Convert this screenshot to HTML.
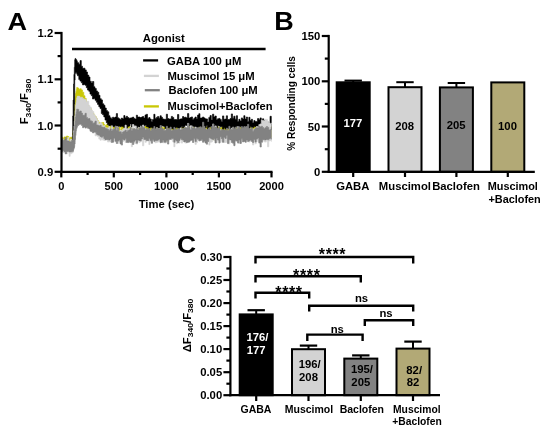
<!DOCTYPE html>
<html lang="en"><head><meta charset="utf-8"><title>Figure</title>
<style>html,body{margin:0;padding:0;background:#fff;}svg{display:block;}text{font-family:"Liberation Sans", Arial, Helvetica, sans-serif;font-weight:bold;}</style>
</head><body>
<svg width="550" height="435" viewBox="0 0 550 435">
<rect x="0" y="0" width="550" height="435" fill="#fff"/>
<path d="M61.5 137.2 L62.8 137.2 L62.8 138.2 L64.0 138.2 L64.0 136.9 L65.2 136.9 L65.2 137.0 L66.5 137.0 L66.5 136.0 L67.8 136.0 L67.8 136.5 L69.0 136.5 L69.0 138.1 L70.2 138.1 L70.2 137.2 L71.5 137.2 L71.5 137.4 L71.9 137.4 L71.9 137.4 L72.3 137.4 L72.3 137.4 L72.7 137.4 L72.7 133.0 L73.1 133.0 L73.1 127.2 L73.5 127.2 L73.5 121.4 L73.9 121.4 L73.9 115.3 L74.3 115.3 L74.3 109.1 L74.7 109.1 L74.7 102.8 L75.1 102.8 L75.1 96.6 L75.5 96.6 L75.5 93.5 L75.9 93.5 L75.9 91.5 L76.3 91.5 L76.3 89.5 L76.7 89.5 L76.7 87.5 L77.1 87.5 L77.1 87.4 L77.5 87.4 L77.5 88.0 L78.8 88.0 L78.8 89.3 L80.0 89.3 L80.0 88.8 L81.3 88.8 L81.3 89.9 L82.5 89.9 L82.5 92.2 L83.8 92.2 L83.8 95.7 L85.0 95.7 L85.0 98.5 L86.3 98.5 L86.3 102.1 L87.5 102.1 L87.5 105.5 L88.8 105.5 L88.8 107.1 L90.0 107.1 L90.0 108.5 L91.3 108.5 L91.3 112.0 L92.5 112.0 L92.5 113.1 L93.8 113.1 L93.8 115.0 L95.0 115.0 L95.0 116.7 L96.3 116.7 L96.3 118.6 L97.5 118.6 L97.5 120.8 L98.8 120.8 L98.8 122.6 L100.0 122.6 L100.0 123.2 L101.3 123.2 L101.3 122.7 L102.5 122.7 L102.5 122.5 L103.8 122.5 L103.8 124.6 L105.0 124.6 L105.0 125.6 L106.3 125.6 L106.3 124.5 L107.5 124.5 L107.5 126.0 L108.8 126.0 L108.8 125.2 L110.0 125.2 L110.0 125.2 L111.3 125.2 L111.3 125.3 L112.5 125.3 L112.5 125.7 L113.8 125.7 L113.8 125.2 L115.0 125.2 L115.0 125.4 L116.3 125.4 L116.3 124.6 L117.5 124.6 L117.5 128.7 L118.8 128.7 L118.8 127.0 L120.0 127.0 L120.0 129.2 L121.3 129.2 L121.3 124.7 L122.5 124.7 L122.5 124.6 L123.8 124.6 L123.8 125.7 L125.0 125.7 L125.0 125.5 L126.3 125.5 L126.3 126.6 L127.5 126.6 L127.5 125.1 L128.8 125.1 L128.8 126.2 L130.0 126.2 L130.0 128.1 L131.3 128.1 L131.3 128.3 L132.5 128.3 L132.5 128.6 L133.8 128.6 L133.8 128.7 L135.0 128.7 L135.0 128.0 L136.3 128.0 L136.3 128.5 L137.5 128.5 L137.5 128.1 L138.8 128.1 L138.8 128.7 L140.0 128.7 L140.0 128.2 L141.3 128.2 L141.3 127.6 L142.5 127.6 L142.5 127.8 L143.8 127.8 L143.8 127.8 L145.0 127.8 L145.0 126.1 L146.3 126.1 L146.3 126.8 L147.5 126.8 L147.5 126.2 L148.8 126.2 L148.8 124.5 L150.0 124.5 L150.0 127.5 L151.3 127.5 L151.3 126.1 L152.5 126.1 L152.5 126.7 L153.8 126.7 L153.8 127.6 L155.0 127.6 L155.0 125.6 L156.3 125.6 L156.3 127.1 L157.5 127.1 L157.5 127.2 L158.8 127.2 L158.8 127.2 L160.0 127.2 L160.0 129.1 L161.3 129.1 L161.3 126.9 L162.5 126.9 L162.5 127.9 L163.8 127.9 L163.8 127.0 L165.0 127.0 L165.0 127.6 L166.3 127.6 L166.3 126.7 L167.5 126.7 L167.5 127.1 L168.8 127.1 L168.8 126.9 L170.0 126.9 L170.0 126.5 L171.3 126.5 L171.3 126.4 L172.5 126.4 L172.5 126.1 L173.8 126.1 L173.8 125.4 L175.0 125.4 L175.0 127.6 L176.3 127.6 L176.3 126.4 L177.5 126.4 L177.5 125.9 L178.8 125.9 L178.8 127.9 L180.0 127.9 L180.0 127.5 L181.3 127.5 L181.3 128.2 L182.5 128.2 L182.5 127.0 L183.8 127.0 L183.8 127.3 L185.0 127.3 L185.0 127.9 L186.3 127.9 L186.3 128.4 L187.5 128.4 L187.5 129.5 L188.8 129.5 L188.8 126.8 L190.0 126.8 L190.0 128.8 L191.3 128.8 L191.3 129.4 L192.5 129.4 L192.5 128.2 L193.8 128.2 L193.8 126.9 L195.0 126.9 L195.0 127.7 L196.3 127.7 L196.3 127.6 L197.5 127.6 L197.5 128.5 L198.8 128.5 L198.8 126.8 L200.0 126.8 L200.0 126.8 L201.3 126.8 L201.3 127.3 L202.5 127.3 L202.5 127.8 L203.8 127.8 L203.8 126.5 L205.0 126.5 L205.0 127.2 L206.3 127.2 L206.3 127.0 L207.5 127.0 L207.5 126.4 L208.8 126.4 L208.8 127.3 L210.0 127.3 L210.0 127.5 L211.3 127.5 L211.3 127.2 L212.5 127.2 L212.5 127.0 L213.8 127.0 L213.8 127.2 L215.0 127.2 L215.0 128.8 L216.3 128.8 L216.3 126.0 L217.5 126.0 L217.5 126.9 L218.8 126.9 L218.8 127.4 L220.0 127.4 L220.0 127.8 L221.3 127.8 L221.3 127.3 L222.5 127.3 L222.5 125.2 L223.8 125.2 L223.8 126.5 L225.0 126.5 L225.0 125.8 L226.3 125.8 L226.3 125.0 L227.5 125.0 L227.5 126.5 L228.8 126.5 L228.8 125.7 L230.0 125.7 L230.0 126.8 L231.3 126.8 L231.3 127.1 L232.5 127.1 L232.5 126.9 L233.8 126.9 L233.8 128.8 L235.0 128.8 L235.0 127.5 L236.3 127.5 L236.3 128.2 L237.5 128.2 L237.5 127.7 L238.8 127.7 L238.8 128.5 L240.0 128.5 L240.0 127.5 L241.3 127.5 L241.3 128.5 L242.5 128.5 L242.5 127.4 L243.8 127.4 L243.8 127.7 L245.0 127.7 L245.0 127.0 L246.3 127.0 L246.3 127.5 L247.5 127.5 L247.5 127.9 L248.8 127.9 L248.8 128.7 L250.0 128.7 L250.0 127.5 L251.3 127.5 L251.3 128.3 L252.5 128.3 L252.5 125.9 L253.8 125.9 L253.8 126.7 L255.0 126.7 L255.0 125.8 L256.3 125.8 L256.3 126.4 L257.5 126.4 L257.5 128.1 L258.8 128.1 L258.8 128.9 L260.0 128.9 L260.0 127.4 L261.3 127.4 L261.3 129.0 L262.5 129.0 L262.5 128.5 L263.8 128.5 L263.8 129.1 L265.0 129.1 L265.0 129.5 L266.3 129.5 L266.3 127.4 L267.5 127.4 L267.5 128.9 L268.8 128.9 L268.8 129.0 L270.0 129.0 L270.0 126.4 L271.3 126.4 L271.3 127.3 L271.3 127.3 L271.3 126.1 L271.3 126.1 L271.3 136.9 L271.3 136.9 L271.3 137.5 L271.3 137.5 L271.3 136.2 L270.0 136.2 L270.0 138.0 L268.8 138.0 L268.8 138.2 L267.5 138.2 L267.5 135.0 L266.3 135.0 L266.3 136.8 L265.0 136.8 L265.0 137.3 L263.8 137.3 L263.8 139.3 L262.5 139.3 L262.5 137.2 L261.3 137.2 L261.3 137.5 L260.0 137.5 L260.0 139.0 L258.8 139.0 L258.8 136.1 L257.5 136.1 L257.5 137.0 L256.3 137.0 L256.3 134.8 L255.0 134.8 L255.0 137.5 L253.8 137.5 L253.8 139.7 L252.5 139.7 L252.5 137.4 L251.3 137.4 L251.3 137.1 L250.0 137.1 L250.0 134.9 L248.8 134.9 L248.8 138.7 L247.5 138.7 L247.5 137.6 L246.3 137.6 L246.3 138.3 L245.0 138.3 L245.0 137.5 L243.8 137.5 L243.8 134.9 L242.5 134.9 L242.5 138.9 L241.3 138.9 L241.3 138.8 L240.0 138.8 L240.0 136.1 L238.8 136.1 L238.8 138.4 L237.5 138.4 L237.5 138.3 L236.3 138.3 L236.3 137.1 L235.0 137.1 L235.0 136.8 L233.8 136.8 L233.8 137.0 L232.5 137.0 L232.5 136.3 L231.3 136.3 L231.3 136.6 L230.0 136.6 L230.0 135.7 L228.8 135.7 L228.8 136.3 L227.5 136.3 L227.5 133.9 L226.3 133.9 L226.3 135.9 L225.0 135.9 L225.0 136.4 L223.8 136.4 L223.8 136.2 L222.5 136.2 L222.5 137.5 L221.3 137.5 L221.3 137.7 L220.0 137.7 L220.0 134.2 L218.8 134.2 L218.8 138.9 L217.5 138.9 L217.5 136.1 L216.3 136.1 L216.3 136.2 L215.0 136.2 L215.0 140.1 L213.8 140.1 L213.8 136.4 L212.5 136.4 L212.5 137.4 L211.3 137.4 L211.3 136.4 L210.0 136.4 L210.0 136.9 L208.8 136.9 L208.8 138.4 L207.5 138.4 L207.5 136.0 L206.3 136.0 L206.3 135.3 L205.0 135.3 L205.0 133.9 L203.8 133.9 L203.8 136.9 L202.5 136.9 L202.5 134.8 L201.3 134.8 L201.3 136.1 L200.0 136.1 L200.0 133.7 L198.8 133.7 L198.8 135.2 L197.5 135.2 L197.5 134.8 L196.3 134.8 L196.3 137.4 L195.0 137.4 L195.0 135.4 L193.8 135.4 L193.8 138.7 L192.5 138.7 L192.5 138.0 L191.3 138.0 L191.3 138.4 L190.0 138.4 L190.0 138.0 L188.8 138.0 L188.8 139.1 L187.5 139.1 L187.5 139.2 L186.3 139.2 L186.3 139.3 L185.0 139.3 L185.0 137.0 L183.8 137.0 L183.8 134.8 L182.5 134.8 L182.5 139.6 L181.3 139.6 L181.3 136.9 L180.0 136.9 L180.0 137.3 L178.8 137.3 L178.8 138.2 L177.5 138.2 L177.5 138.9 L176.3 138.9 L176.3 137.0 L175.0 137.0 L175.0 137.0 L173.8 137.0 L173.8 135.1 L172.5 135.1 L172.5 136.7 L171.3 136.7 L171.3 134.9 L170.0 134.9 L170.0 135.5 L168.8 135.5 L168.8 134.2 L167.5 134.2 L167.5 141.0 L166.3 141.0 L166.3 139.6 L165.0 139.6 L165.0 136.2 L163.8 136.2 L163.8 134.6 L162.5 134.6 L162.5 137.1 L161.3 137.1 L161.3 137.4 L160.0 137.4 L160.0 135.8 L158.8 135.8 L158.8 135.2 L157.5 135.2 L157.5 136.9 L156.3 136.9 L156.3 133.9 L155.0 133.9 L155.0 133.4 L153.8 133.4 L153.8 135.1 L152.5 135.1 L152.5 134.0 L151.3 134.0 L151.3 134.3 L150.0 134.3 L150.0 135.5 L148.8 135.5 L148.8 135.1 L147.5 135.1 L147.5 137.0 L146.3 137.0 L146.3 138.3 L145.0 138.3 L145.0 135.3 L143.8 135.3 L143.8 135.9 L142.5 135.9 L142.5 136.7 L141.3 136.7 L141.3 137.3 L140.0 137.3 L140.0 136.6 L138.8 136.6 L138.8 137.7 L137.5 137.7 L137.5 135.8 L136.3 135.8 L136.3 136.7 L135.0 136.7 L135.0 138.9 L133.8 138.9 L133.8 136.7 L132.5 136.7 L132.5 138.5 L131.3 138.5 L131.3 136.6 L130.0 136.6 L130.0 136.0 L128.8 136.0 L128.8 139.0 L127.5 139.0 L127.5 136.5 L126.3 136.5 L126.3 134.3 L125.0 134.3 L125.0 134.6 L123.8 134.6 L123.8 136.6 L122.5 136.6 L122.5 136.2 L121.3 136.2 L121.3 136.3 L120.0 136.3 L120.0 135.9 L118.8 135.9 L118.8 136.1 L117.5 136.1 L117.5 134.7 L116.3 134.7 L116.3 135.7 L115.0 135.7 L115.0 135.3 L113.8 135.3 L113.8 134.9 L112.5 134.9 L112.5 137.8 L111.3 137.8 L111.3 131.4 L110.0 131.4 L110.0 132.9 L108.8 132.9 L108.8 132.5 L107.5 132.5 L107.5 132.2 L106.3 132.2 L106.3 132.2 L105.0 132.2 L105.0 130.8 L103.8 130.8 L103.8 130.8 L102.5 130.8 L102.5 130.9 L101.3 130.9 L101.3 129.2 L100.0 129.2 L100.0 127.1 L98.8 127.1 L98.8 128.6 L97.5 128.6 L97.5 125.6 L96.3 125.6 L96.3 123.7 L95.0 123.7 L95.0 123.3 L93.8 123.3 L93.8 122.0 L92.5 122.0 L92.5 119.6 L91.3 119.6 L91.3 119.2 L90.0 119.2 L90.0 115.8 L88.8 115.8 L88.8 114.4 L87.5 114.4 L87.5 112.1 L86.3 112.1 L86.3 110.0 L85.0 110.0 L85.0 109.0 L83.8 109.0 L83.8 107.9 L82.5 107.9 L82.5 106.0 L81.3 106.0 L81.3 104.3 L80.0 104.3 L80.0 104.6 L78.8 104.6 L78.8 104.8 L77.5 104.8 L77.5 105.0 L77.1 105.0 L77.1 108.0 L76.7 108.0 L76.7 112.0 L76.3 112.0 L76.3 116.0 L75.9 116.0 L75.9 120.0 L75.5 120.0 L75.5 124.0 L75.1 124.0 L75.1 128.0 L74.7 128.0 L74.7 132.0 L74.3 132.0 L74.3 136.0 L73.9 136.0 L73.9 140.0 L73.5 140.0 L73.5 144.0 L73.1 144.0 L73.1 148.0 L72.7 148.0 L72.7 149.0 L72.3 149.0 L72.3 149.0 L71.9 149.0 L71.9 149.0 L71.5 149.0 L71.5 148.6 L70.2 148.6 L70.2 148.8 L69.0 148.8 L69.0 148.4 L67.8 148.4 L67.8 147.9 L66.5 147.9 L66.5 148.6 L65.2 148.6 L65.2 149.1 L64.0 149.1 L64.0 148.8 L62.8 148.8 L62.8 148.3 L61.5 148.3Z" fill="#c9c705" stroke="#c9c705" stroke-width="0.6" stroke-linejoin="round"/>
<path d="M61.5 142.4 L62.8 142.4 L62.8 139.4 L64.0 139.4 L64.0 144.4 L65.2 144.4 L65.2 139.5 L66.5 139.5 L66.5 142.0 L67.8 142.0 L67.8 142.6 L69.0 142.6 L69.0 141.5 L70.2 141.5 L70.2 143.7 L71.5 143.7 L71.5 142.0 L71.9 142.0 L71.9 142.0 L72.3 142.0 L72.3 136.5 L72.7 136.5 L72.7 116.0 L73.1 116.0 L73.1 100.0 L73.5 100.0 L73.5 84.0 L73.9 84.0 L73.9 74.5 L74.3 74.5 L74.3 67.2 L74.7 67.2 L74.7 59.8 L75.1 59.8 L75.1 58.4 L75.5 58.4 L75.5 58.8 L75.9 58.8 L75.9 59.3 L76.3 59.3 L76.3 59.8 L76.7 59.8 L76.7 60.5 L77.1 60.5 L77.1 61.6 L77.5 61.6 L77.5 62.7 L78.8 62.7 L78.8 64.3 L80.0 64.3 L80.0 60.6 L81.3 60.6 L81.3 66.2 L82.5 66.2 L82.5 68.3 L83.8 68.3 L83.8 68.2 L85.0 68.2 L85.0 69.9 L86.3 69.9 L86.3 72.0 L87.5 72.0 L87.5 75.1 L88.8 75.1 L88.8 77.0 L90.0 77.0 L90.0 81.3 L91.3 81.3 L91.3 82.9 L92.5 82.9 L92.5 81.5 L93.8 81.5 L93.8 86.8 L95.0 86.8 L95.0 88.5 L96.3 88.5 L96.3 90.9 L97.5 90.9 L97.5 92.2 L98.8 92.2 L98.8 95.3 L100.0 95.3 L100.0 98.7 L101.3 98.7 L101.3 99.9 L102.5 99.9 L102.5 103.8 L103.8 103.8 L103.8 105.3 L105.0 105.3 L105.0 108.0 L106.3 108.0 L106.3 110.6 L107.5 110.6 L107.5 111.8 L108.8 111.8 L108.8 115.7 L110.0 115.7 L110.0 117.7 L111.3 117.7 L111.3 118.8 L112.5 118.8 L112.5 117.2 L113.8 117.2 L113.8 117.7 L115.0 117.7 L115.0 117.1 L116.3 117.1 L116.3 113.6 L117.5 113.6 L117.5 117.8 L118.8 117.8 L118.8 118.8 L120.0 118.8 L120.0 119.4 L121.3 119.4 L121.3 118.1 L122.5 118.1 L122.5 118.7 L123.8 118.7 L123.8 115.6 L125.0 115.6 L125.0 117.8 L126.3 117.8 L126.3 116.3 L127.5 116.3 L127.5 117.5 L128.8 117.5 L128.8 118.3 L130.0 118.3 L130.0 118.0 L131.3 118.0 L131.3 117.8 L132.5 117.8 L132.5 117.1 L133.8 117.1 L133.8 118.6 L135.0 118.6 L135.0 119.0 L136.3 119.0 L136.3 115.2 L137.5 115.2 L137.5 117.0 L138.8 117.0 L138.8 117.0 L140.0 117.0 L140.0 117.5 L141.3 117.5 L141.3 117.1 L142.5 117.1 L142.5 116.5 L143.8 116.5 L143.8 118.1 L145.0 118.1 L145.0 114.9 L146.3 114.9 L146.3 114.3 L147.5 114.3 L147.5 118.6 L148.8 118.6 L148.8 117.5 L150.0 117.5 L150.0 119.0 L151.3 119.0 L151.3 121.4 L152.5 121.4 L152.5 119.5 L153.8 119.5 L153.8 114.3 L155.0 114.3 L155.0 118.4 L156.3 118.4 L156.3 117.4 L157.5 117.4 L157.5 116.6 L158.8 116.6 L158.8 118.2 L160.0 118.2 L160.0 115.8 L161.3 115.8 L161.3 117.3 L162.5 117.3 L162.5 118.9 L163.8 118.9 L163.8 119.3 L165.0 119.3 L165.0 119.3 L166.3 119.3 L166.3 114.2 L167.5 114.2 L167.5 118.5 L168.8 118.5 L168.8 119.1 L170.0 119.1 L170.0 118.9 L171.3 118.9 L171.3 116.4 L172.5 116.4 L172.5 117.4 L173.8 117.4 L173.8 119.6 L175.0 119.6 L175.0 119.5 L176.3 119.5 L176.3 119.4 L177.5 119.4 L177.5 114.5 L178.8 114.5 L178.8 119.6 L180.0 119.6 L180.0 119.0 L181.3 119.0 L181.3 118.8 L182.5 118.8 L182.5 116.5 L183.8 116.5 L183.8 117.5 L185.0 117.5 L185.0 117.2 L186.3 117.2 L186.3 118.0 L187.5 118.0 L187.5 113.6 L188.8 113.6 L188.8 118.1 L190.0 118.1 L190.0 117.6 L191.3 117.6 L191.3 116.9 L192.5 116.9 L192.5 119.5 L193.8 119.5 L193.8 118.3 L195.0 118.3 L195.0 117.0 L196.3 117.0 L196.3 118.7 L197.5 118.7 L197.5 115.1 L198.8 115.1 L198.8 113.7 L200.0 113.7 L200.0 118.1 L201.3 118.1 L201.3 117.9 L202.5 117.9 L202.5 117.0 L203.8 117.0 L203.8 117.9 L205.0 117.9 L205.0 118.8 L206.3 118.8 L206.3 118.9 L207.5 118.9 L207.5 121.9 L208.8 121.9 L208.8 117.4 L210.0 117.4 L210.0 115.6 L211.3 115.6 L211.3 119.9 L212.5 119.9 L212.5 114.2 L213.8 114.2 L213.8 116.9 L215.0 116.9 L215.0 116.0 L216.3 116.0 L216.3 119.7 L217.5 119.7 L217.5 118.8 L218.8 118.8 L218.8 118.4 L220.0 118.4 L220.0 119.4 L221.3 119.4 L221.3 121.4 L222.5 121.4 L222.5 115.9 L223.8 115.9 L223.8 119.3 L225.0 119.3 L225.0 119.1 L226.3 119.1 L226.3 115.8 L227.5 115.8 L227.5 119.5 L228.8 119.5 L228.8 119.6 L230.0 119.6 L230.0 118.5 L231.3 118.5 L231.3 113.9 L232.5 113.9 L232.5 118.2 L233.8 118.2 L233.8 116.2 L235.0 116.2 L235.0 119.2 L236.3 119.2 L236.3 115.7 L237.5 115.7 L237.5 121.5 L238.8 121.5 L238.8 119.3 L240.0 119.3 L240.0 120.9 L241.3 120.9 L241.3 117.9 L242.5 117.9 L242.5 119.1 L243.8 119.1 L243.8 115.7 L245.0 115.7 L245.0 119.1 L246.3 119.1 L246.3 117.0 L247.5 117.0 L247.5 121.4 L248.8 121.4 L248.8 117.3 L250.0 117.3 L250.0 120.5 L251.3 120.5 L251.3 119.3 L252.5 119.3 L252.5 122.7 L253.8 122.7 L253.8 120.6 L255.0 120.6 L255.0 121.4 L256.3 121.4 L256.3 121.6 L257.5 121.6 L257.5 118.6 L258.8 118.6 L258.8 119.8 L260.0 119.8 L260.0 117.9 L261.3 117.9 L261.3 121.1 L262.5 121.1 L262.5 118.8 L263.8 118.8 L263.8 120.6 L265.0 120.6 L265.0 121.1 L266.3 121.1 L266.3 122.4 L267.5 122.4 L267.5 122.1 L268.8 122.1 L268.8 122.6 L270.0 122.6 L270.0 116.3 L271.3 116.3 L271.3 121.1 L271.3 121.1 L271.3 123.7 L271.3 123.7 L271.3 130.0 L271.3 130.0 L271.3 128.4 L271.3 128.4 L271.3 127.6 L270.0 127.6 L270.0 126.8 L268.8 126.8 L268.8 125.9 L267.5 125.9 L267.5 127.8 L266.3 127.8 L266.3 126.3 L265.0 126.3 L265.0 126.9 L263.8 126.9 L263.8 125.3 L262.5 125.3 L262.5 129.2 L261.3 129.2 L261.3 126.8 L260.0 126.8 L260.0 127.1 L258.8 127.1 L258.8 127.1 L257.5 127.1 L257.5 126.1 L256.3 126.1 L256.3 126.7 L255.0 126.7 L255.0 126.6 L253.8 126.6 L253.8 127.6 L252.5 127.6 L252.5 127.4 L251.3 127.4 L251.3 126.8 L250.0 126.8 L250.0 128.9 L248.8 128.9 L248.8 127.9 L247.5 127.9 L247.5 126.0 L246.3 126.0 L246.3 127.3 L245.0 127.3 L245.0 126.3 L243.8 126.3 L243.8 128.5 L242.5 128.5 L242.5 128.1 L241.3 128.1 L241.3 126.7 L240.0 126.7 L240.0 126.6 L238.8 126.6 L238.8 126.1 L237.5 126.1 L237.5 126.2 L236.3 126.2 L236.3 127.5 L235.0 127.5 L235.0 128.4 L233.8 128.4 L233.8 127.1 L232.5 127.1 L232.5 128.8 L231.3 128.8 L231.3 129.4 L230.0 129.4 L230.0 128.0 L228.8 128.0 L228.8 128.5 L227.5 128.5 L227.5 128.9 L226.3 128.9 L226.3 129.1 L225.0 129.1 L225.0 127.7 L223.8 127.7 L223.8 129.3 L222.5 129.3 L222.5 126.8 L221.3 126.8 L221.3 126.8 L220.0 126.8 L220.0 126.0 L218.8 126.0 L218.8 125.7 L217.5 125.7 L217.5 130.9 L216.3 130.9 L216.3 127.7 L215.0 127.7 L215.0 126.2 L213.8 126.2 L213.8 129.5 L212.5 129.5 L212.5 130.0 L211.3 130.0 L211.3 126.7 L210.0 126.7 L210.0 127.4 L208.8 127.4 L208.8 132.1 L207.5 132.1 L207.5 125.8 L206.3 125.8 L206.3 127.7 L205.0 127.7 L205.0 125.9 L203.8 125.9 L203.8 126.9 L202.5 126.9 L202.5 127.2 L201.3 127.2 L201.3 130.7 L200.0 130.7 L200.0 126.5 L198.8 126.5 L198.8 127.6 L197.5 127.6 L197.5 127.9 L196.3 127.9 L196.3 128.1 L195.0 128.1 L195.0 126.7 L193.8 126.7 L193.8 126.3 L192.5 126.3 L192.5 125.0 L191.3 125.0 L191.3 128.0 L190.0 128.0 L190.0 125.9 L188.8 125.9 L188.8 126.9 L187.5 126.9 L187.5 125.5 L186.3 125.5 L186.3 125.3 L185.0 125.3 L185.0 126.6 L183.8 126.6 L183.8 128.2 L182.5 128.2 L182.5 126.4 L181.3 126.4 L181.3 132.7 L180.0 132.7 L180.0 128.7 L178.8 128.7 L178.8 128.3 L177.5 128.3 L177.5 127.0 L176.3 127.0 L176.3 128.1 L175.0 128.1 L175.0 129.8 L173.8 129.8 L173.8 128.9 L172.5 128.9 L172.5 128.6 L171.3 128.6 L171.3 128.4 L170.0 128.4 L170.0 128.5 L168.8 128.5 L168.8 127.7 L167.5 127.7 L167.5 127.1 L166.3 127.1 L166.3 131.7 L165.0 131.7 L165.0 126.5 L163.8 126.5 L163.8 126.1 L162.5 126.1 L162.5 125.7 L161.3 125.7 L161.3 127.2 L160.0 127.2 L160.0 128.0 L158.8 128.0 L158.8 128.2 L157.5 128.2 L157.5 126.9 L156.3 126.9 L156.3 129.1 L155.0 129.1 L155.0 128.2 L153.8 128.2 L153.8 128.8 L152.5 128.8 L152.5 127.4 L151.3 127.4 L151.3 127.4 L150.0 127.4 L150.0 128.3 L148.8 128.3 L148.8 127.0 L147.5 127.0 L147.5 126.8 L146.3 126.8 L146.3 125.3 L145.0 125.3 L145.0 125.9 L143.8 125.9 L143.8 128.3 L142.5 128.3 L142.5 126.7 L141.3 126.7 L141.3 125.6 L140.0 125.6 L140.0 126.9 L138.8 126.9 L138.8 126.8 L137.5 126.8 L137.5 129.3 L136.3 129.3 L136.3 126.7 L135.0 126.7 L135.0 125.2 L133.8 125.2 L133.8 124.8 L132.5 124.8 L132.5 127.0 L131.3 127.0 L131.3 123.9 L130.0 123.9 L130.0 126.0 L128.8 126.0 L128.8 126.4 L127.5 126.4 L127.5 132.9 L126.3 132.9 L126.3 126.4 L125.0 126.4 L125.0 127.7 L123.8 127.7 L123.8 126.7 L122.5 126.7 L122.5 126.0 L121.3 126.0 L121.3 126.8 L120.0 126.8 L120.0 126.3 L118.8 126.3 L118.8 126.4 L117.5 126.4 L117.5 129.7 L116.3 129.7 L116.3 126.1 L115.0 126.1 L115.0 126.8 L113.8 126.8 L113.8 126.4 L112.5 126.4 L112.5 126.8 L111.3 126.8 L111.3 125.4 L110.0 125.4 L110.0 125.7 L108.8 125.7 L108.8 124.7 L107.5 124.7 L107.5 122.8 L106.3 122.8 L106.3 120.1 L105.0 120.1 L105.0 116.9 L103.8 116.9 L103.8 114.7 L102.5 114.7 L102.5 113.6 L101.3 113.6 L101.3 108.5 L100.0 108.5 L100.0 106.7 L98.8 106.7 L98.8 104.4 L97.5 104.4 L97.5 102.3 L96.3 102.3 L96.3 100.3 L95.0 100.3 L95.0 98.4 L93.8 98.4 L93.8 99.0 L92.5 99.0 L92.5 95.7 L91.3 95.7 L91.3 94.1 L90.0 94.1 L90.0 91.3 L88.8 91.3 L88.8 90.1 L87.5 90.1 L87.5 87.7 L86.3 87.7 L86.3 85.3 L85.0 85.3 L85.0 84.4 L83.8 84.4 L83.8 84.9 L82.5 84.9 L82.5 82.8 L81.3 82.8 L81.3 81.1 L80.0 81.1 L80.0 79.6 L78.8 79.6 L78.8 75.8 L77.5 75.8 L77.5 74.8 L77.1 74.8 L77.1 73.8 L76.7 73.8 L76.7 72.8 L76.3 72.8 L76.3 72.2 L75.9 72.2 L75.9 72.8 L75.5 72.8 L75.5 73.5 L75.1 73.5 L75.1 80.0 L74.7 80.0 L74.7 104.0 L74.3 104.0 L74.3 129.0 L73.9 129.0 L73.9 148.1 L73.5 148.1 L73.5 148.6 L73.1 148.6 L73.1 149.1 L72.7 149.1 L72.7 149.6 L72.3 149.6 L72.3 150.0 L71.9 150.0 L71.9 150.0 L71.5 150.0 L71.5 150.0 L70.2 150.0 L70.2 149.3 L69.0 149.3 L69.0 149.3 L67.8 149.3 L67.8 150.2 L66.5 150.2 L66.5 150.5 L65.2 150.5 L65.2 150.5 L64.0 150.5 L64.0 150.3 L62.8 150.3 L62.8 150.8 L61.5 150.8Z" fill="#000" stroke="#000" stroke-width="0.6" stroke-linejoin="round"/>
<path d="M61.5 141.4 L62.8 141.4 L62.8 138.9 L64.0 138.9 L64.0 142.1 L65.2 142.1 L65.2 140.7 L66.5 140.7 L66.5 139.6 L67.8 139.6 L67.8 137.3 L69.0 137.3 L69.0 141.4 L70.2 141.4 L70.2 139.1 L71.5 139.1 L71.5 141.0 L71.9 141.0 L71.9 141.0 L72.3 141.0 L72.3 141.0 L72.7 141.0 L72.7 139.9 L73.1 139.9 L73.1 135.3 L73.5 135.3 L73.5 130.7 L73.9 130.7 L73.9 126.1 L74.3 126.1 L74.3 121.1 L74.7 121.1 L74.7 115.8 L75.1 115.8 L75.1 110.6 L75.5 110.6 L75.5 105.3 L75.9 105.3 L75.9 102.4 L76.3 102.4 L76.3 100.2 L76.7 100.2 L76.7 98.0 L77.1 98.0 L77.1 96.3 L77.5 96.3 L77.5 96.1 L78.8 96.1 L78.8 96.3 L80.0 96.3 L80.0 97.6 L81.3 97.6 L81.3 97.2 L82.5 97.2 L82.5 98.4 L83.8 98.4 L83.8 99.2 L85.0 99.2 L85.0 99.6 L86.3 99.6 L86.3 101.4 L87.5 101.4 L87.5 101.3 L88.8 101.3 L88.8 105.4 L90.0 105.4 L90.0 107.1 L91.3 107.1 L91.3 110.0 L92.5 110.0 L92.5 111.5 L93.8 111.5 L93.8 114.5 L95.0 114.5 L95.0 116.5 L96.3 116.5 L96.3 118.3 L97.5 118.3 L97.5 121.0 L98.8 121.0 L98.8 123.7 L100.0 123.7 L100.0 122.5 L101.3 122.5 L101.3 123.6 L102.5 123.6 L102.5 125.8 L103.8 125.8 L103.8 125.4 L105.0 125.4 L105.0 127.4 L106.3 127.4 L106.3 128.1 L107.5 128.1 L107.5 127.8 L108.8 127.8 L108.8 126.5 L110.0 126.5 L110.0 128.9 L111.3 128.9 L111.3 125.8 L112.5 125.8 L112.5 129.1 L113.8 129.1 L113.8 129.0 L115.0 129.0 L115.0 127.9 L116.3 127.9 L116.3 126.5 L117.5 126.5 L117.5 128.3 L118.8 128.3 L118.8 131.2 L120.0 131.2 L120.0 130.0 L121.3 130.0 L121.3 130.5 L122.5 130.5 L122.5 129.0 L123.8 129.0 L123.8 128.2 L125.0 128.2 L125.0 125.1 L126.3 125.1 L126.3 128.4 L127.5 128.4 L127.5 129.2 L128.8 129.2 L128.8 128.0 L130.0 128.0 L130.0 127.9 L131.3 127.9 L131.3 129.0 L132.5 129.0 L132.5 124.5 L133.8 124.5 L133.8 128.2 L135.0 128.2 L135.0 125.9 L136.3 125.9 L136.3 128.2 L137.5 128.2 L137.5 128.7 L138.8 128.7 L138.8 129.9 L140.0 129.9 L140.0 129.3 L141.3 129.3 L141.3 128.8 L142.5 128.8 L142.5 125.0 L143.8 125.0 L143.8 129.4 L145.0 129.4 L145.0 128.7 L146.3 128.7 L146.3 129.8 L147.5 129.8 L147.5 131.6 L148.8 131.6 L148.8 129.4 L150.0 129.4 L150.0 132.0 L151.3 132.0 L151.3 129.3 L152.5 129.3 L152.5 130.5 L153.8 130.5 L153.8 128.2 L155.0 128.2 L155.0 130.2 L156.3 130.2 L156.3 127.7 L157.5 127.7 L157.5 128.9 L158.8 128.9 L158.8 128.6 L160.0 128.6 L160.0 128.5 L161.3 128.5 L161.3 129.9 L162.5 129.9 L162.5 129.2 L163.8 129.2 L163.8 130.2 L165.0 130.2 L165.0 129.1 L166.3 129.1 L166.3 133.1 L167.5 133.1 L167.5 130.1 L168.8 130.1 L168.8 130.6 L170.0 130.6 L170.0 129.6 L171.3 129.6 L171.3 130.6 L172.5 130.6 L172.5 130.5 L173.8 130.5 L173.8 130.4 L175.0 130.4 L175.0 130.5 L176.3 130.5 L176.3 130.6 L177.5 130.6 L177.5 128.9 L178.8 128.9 L178.8 129.8 L180.0 129.8 L180.0 127.9 L181.3 127.9 L181.3 129.5 L182.5 129.5 L182.5 128.8 L183.8 128.8 L183.8 128.7 L185.0 128.7 L185.0 127.1 L186.3 127.1 L186.3 128.9 L187.5 128.9 L187.5 123.4 L188.8 123.4 L188.8 129.1 L190.0 129.1 L190.0 125.8 L191.3 125.8 L191.3 128.8 L192.5 128.8 L192.5 129.5 L193.8 129.5 L193.8 129.7 L195.0 129.7 L195.0 127.1 L196.3 127.1 L196.3 131.3 L197.5 131.3 L197.5 131.5 L198.8 131.5 L198.8 127.9 L200.0 127.9 L200.0 129.3 L201.3 129.3 L201.3 129.1 L202.5 129.1 L202.5 128.3 L203.8 128.3 L203.8 129.0 L205.0 129.0 L205.0 129.2 L206.3 129.2 L206.3 129.9 L207.5 129.9 L207.5 130.1 L208.8 130.1 L208.8 128.2 L210.0 128.2 L210.0 129.8 L211.3 129.8 L211.3 129.7 L212.5 129.7 L212.5 124.1 L213.8 124.1 L213.8 131.2 L215.0 131.2 L215.0 125.9 L216.3 125.9 L216.3 129.5 L217.5 129.5 L217.5 130.7 L218.8 130.7 L218.8 129.4 L220.0 129.4 L220.0 129.4 L221.3 129.4 L221.3 131.5 L222.5 131.5 L222.5 130.6 L223.8 130.6 L223.8 130.4 L225.0 130.4 L225.0 131.2 L226.3 131.2 L226.3 130.5 L227.5 130.5 L227.5 132.1 L228.8 132.1 L228.8 129.9 L230.0 129.9 L230.0 129.8 L231.3 129.8 L231.3 128.1 L232.5 128.1 L232.5 127.4 L233.8 127.4 L233.8 130.4 L235.0 130.4 L235.0 128.9 L236.3 128.9 L236.3 129.1 L237.5 129.1 L237.5 127.4 L238.8 127.4 L238.8 130.5 L240.0 130.5 L240.0 130.4 L241.3 130.4 L241.3 130.3 L242.5 130.3 L242.5 128.6 L243.8 128.6 L243.8 128.2 L245.0 128.2 L245.0 130.0 L246.3 130.0 L246.3 130.7 L247.5 130.7 L247.5 131.7 L248.8 131.7 L248.8 129.1 L250.0 129.1 L250.0 128.8 L251.3 128.8 L251.3 130.0 L252.5 130.0 L252.5 129.1 L253.8 129.1 L253.8 129.1 L255.0 129.1 L255.0 128.0 L256.3 128.0 L256.3 126.5 L257.5 126.5 L257.5 127.1 L258.8 127.1 L258.8 124.6 L260.0 124.6 L260.0 123.9 L261.3 123.9 L261.3 120.3 L262.5 120.3 L262.5 120.5 L263.8 120.5 L263.8 120.7 L265.0 120.7 L265.0 119.3 L266.3 119.3 L266.3 119.4 L267.5 119.4 L267.5 121.2 L268.8 121.2 L268.8 122.6 L270.0 122.6 L270.0 123.7 L271.3 123.7 L271.3 122.9 L271.3 122.9 L271.3 124.9 L271.3 124.9 L271.3 136.8 L271.3 136.8 L271.3 141.6 L271.3 141.6 L271.3 140.4 L270.0 140.4 L270.0 140.9 L268.8 140.9 L268.8 146.8 L267.5 146.8 L267.5 140.2 L266.3 140.2 L266.3 142.1 L265.0 142.1 L265.0 141.8 L263.8 141.8 L263.8 139.9 L262.5 139.9 L262.5 140.6 L261.3 140.6 L261.3 139.4 L260.0 139.4 L260.0 139.3 L258.8 139.3 L258.8 141.6 L257.5 141.6 L257.5 139.9 L256.3 139.9 L256.3 143.8 L255.0 143.8 L255.0 139.9 L253.8 139.9 L253.8 145.0 L252.5 145.0 L252.5 140.6 L251.3 140.6 L251.3 141.2 L250.0 141.2 L250.0 142.1 L248.8 142.1 L248.8 137.9 L247.5 137.9 L247.5 139.5 L246.3 139.5 L246.3 141.0 L245.0 141.0 L245.0 137.4 L243.8 137.4 L243.8 137.1 L242.5 137.1 L242.5 139.9 L241.3 139.9 L241.3 143.3 L240.0 143.3 L240.0 143.5 L238.8 143.5 L238.8 141.7 L237.5 141.7 L237.5 141.0 L236.3 141.0 L236.3 141.7 L235.0 141.7 L235.0 144.9 L233.8 144.9 L233.8 141.4 L232.5 141.4 L232.5 140.7 L231.3 140.7 L231.3 139.1 L230.0 139.1 L230.0 143.8 L228.8 143.8 L228.8 143.8 L227.5 143.8 L227.5 142.2 L226.3 142.2 L226.3 142.5 L225.0 142.5 L225.0 142.5 L223.8 142.5 L223.8 142.2 L222.5 142.2 L222.5 141.0 L221.3 141.0 L221.3 142.3 L220.0 142.3 L220.0 141.4 L218.8 141.4 L218.8 140.3 L217.5 140.3 L217.5 142.4 L216.3 142.4 L216.3 139.1 L215.0 139.1 L215.0 140.8 L213.8 140.8 L213.8 137.4 L212.5 137.4 L212.5 141.9 L211.3 141.9 L211.3 142.3 L210.0 142.3 L210.0 145.1 L208.8 145.1 L208.8 141.2 L207.5 141.2 L207.5 142.4 L206.3 142.4 L206.3 141.8 L205.0 141.8 L205.0 140.4 L203.8 140.4 L203.8 138.5 L202.5 138.5 L202.5 140.4 L201.3 140.4 L201.3 139.3 L200.0 139.3 L200.0 141.0 L198.8 141.0 L198.8 138.7 L197.5 138.7 L197.5 142.6 L196.3 142.6 L196.3 144.4 L195.0 144.4 L195.0 139.7 L193.8 139.7 L193.8 139.9 L192.5 139.9 L192.5 140.4 L191.3 140.4 L191.3 140.1 L190.0 140.1 L190.0 142.2 L188.8 142.2 L188.8 138.7 L187.5 138.7 L187.5 138.8 L186.3 138.8 L186.3 143.1 L185.0 143.1 L185.0 139.0 L183.8 139.0 L183.8 141.4 L182.5 141.4 L182.5 143.1 L181.3 143.1 L181.3 139.4 L180.0 139.4 L180.0 143.1 L178.8 143.1 L178.8 140.2 L177.5 140.2 L177.5 143.7 L176.3 143.7 L176.3 142.3 L175.0 142.3 L175.0 146.7 L173.8 146.7 L173.8 141.8 L172.5 141.8 L172.5 139.9 L171.3 139.9 L171.3 138.3 L170.0 138.3 L170.0 138.7 L168.8 138.7 L168.8 141.2 L167.5 141.2 L167.5 140.2 L166.3 140.2 L166.3 143.1 L165.0 143.1 L165.0 142.8 L163.8 142.8 L163.8 142.8 L162.5 142.8 L162.5 142.4 L161.3 142.4 L161.3 140.9 L160.0 140.9 L160.0 141.3 L158.8 141.3 L158.8 142.1 L157.5 142.1 L157.5 142.4 L156.3 142.4 L156.3 142.8 L155.0 142.8 L155.0 141.9 L153.8 141.9 L153.8 140.4 L152.5 140.4 L152.5 140.7 L151.3 140.7 L151.3 141.8 L150.0 141.8 L150.0 144.6 L148.8 144.6 L148.8 140.6 L147.5 140.6 L147.5 139.4 L146.3 139.4 L146.3 142.3 L145.0 142.3 L145.0 137.7 L143.8 137.7 L143.8 145.8 L142.5 145.8 L142.5 136.9 L141.3 136.9 L141.3 141.9 L140.0 141.9 L140.0 142.4 L138.8 142.4 L138.8 141.7 L137.5 141.7 L137.5 144.1 L136.3 144.1 L136.3 143.5 L135.0 143.5 L135.0 142.9 L133.8 142.9 L133.8 141.0 L132.5 141.0 L132.5 146.7 L131.3 146.7 L131.3 139.4 L130.0 139.4 L130.0 142.4 L128.8 142.4 L128.8 140.5 L127.5 140.5 L127.5 141.9 L126.3 141.9 L126.3 142.5 L125.0 142.5 L125.0 139.8 L123.8 139.8 L123.8 141.4 L122.5 141.4 L122.5 141.1 L121.3 141.1 L121.3 140.5 L120.0 140.5 L120.0 141.9 L118.8 141.9 L118.8 143.4 L117.5 143.4 L117.5 141.3 L116.3 141.3 L116.3 141.9 L115.0 141.9 L115.0 136.0 L113.8 136.0 L113.8 139.5 L112.5 139.5 L112.5 140.6 L111.3 140.6 L111.3 141.9 L110.0 141.9 L110.0 141.8 L108.8 141.8 L108.8 142.0 L107.5 142.0 L107.5 140.1 L106.3 140.1 L106.3 139.7 L105.0 139.7 L105.0 140.5 L103.8 140.5 L103.8 140.1 L102.5 140.1 L102.5 139.2 L101.3 139.2 L101.3 140.2 L100.0 140.2 L100.0 139.1 L98.8 139.1 L98.8 136.6 L97.5 136.6 L97.5 135.7 L96.3 135.7 L96.3 135.8 L95.0 135.8 L95.0 132.3 L93.8 132.3 L93.8 130.3 L92.5 130.3 L92.5 131.0 L91.3 131.0 L91.3 127.5 L90.0 127.5 L90.0 125.6 L88.8 125.6 L88.8 123.4 L87.5 123.4 L87.5 120.2 L86.3 120.2 L86.3 119.5 L85.0 119.5 L85.0 118.6 L83.8 118.6 L83.8 118.1 L82.5 118.1 L82.5 116.0 L81.3 116.0 L81.3 118.8 L80.0 118.8 L80.0 118.3 L78.8 118.3 L78.8 120.0 L77.5 120.0 L77.5 123.2 L77.1 123.2 L77.1 126.4 L76.7 126.4 L76.7 129.6 L76.3 129.6 L76.3 132.8 L75.9 132.8 L75.9 136.0 L75.5 136.0 L75.5 139.2 L75.1 139.2 L75.1 141.8 L74.7 141.8 L74.7 144.1 L74.3 144.1 L74.3 146.5 L73.9 146.5 L73.9 148.9 L73.5 148.9 L73.5 151.2 L73.1 151.2 L73.1 153.0 L72.7 153.0 L72.7 153.0 L72.3 153.0 L72.3 153.0 L71.9 153.0 L71.9 152.9 L71.5 152.9 L71.5 153.8 L70.2 153.8 L70.2 156.3 L69.0 156.3 L69.0 152.3 L67.8 152.3 L67.8 153.7 L66.5 153.7 L66.5 152.7 L65.2 152.7 L65.2 152.1 L64.0 152.1 L64.0 152.5 L62.8 152.5 L62.8 152.1 L61.5 152.1Z" fill="#d3d3d3" stroke="#d3d3d3" stroke-width="0.6" stroke-linejoin="round"/>
<path d="M61.5 138.8 L62.8 138.8 L62.8 140.3 L64.0 140.3 L64.0 140.5 L65.2 140.5 L65.2 137.4 L66.5 137.4 L66.5 140.8 L67.8 140.8 L67.8 141.0 L69.0 141.0 L69.0 141.7 L70.2 141.7 L70.2 141.8 L71.5 141.8 L71.5 140.6 L71.9 140.6 L71.9 140.6 L72.3 140.6 L72.3 140.6 L72.7 140.6 L72.7 140.6 L73.1 140.6 L73.1 138.3 L73.5 138.3 L73.5 135.3 L73.9 135.3 L73.9 132.3 L74.3 132.3 L74.3 129.0 L74.7 129.0 L74.7 125.0 L75.1 125.0 L75.1 121.0 L75.5 121.0 L75.5 117.0 L75.9 117.0 L75.9 114.2 L76.3 114.2 L76.3 111.7 L76.7 111.7 L76.7 109.3 L77.1 109.3 L77.1 109.0 L77.5 109.0 L77.5 109.4 L78.8 109.4 L78.8 111.8 L80.0 111.8 L80.0 111.0 L81.3 111.0 L81.3 113.1 L82.5 113.1 L82.5 115.3 L83.8 115.3 L83.8 115.2 L85.0 115.2 L85.0 113.3 L86.3 113.3 L86.3 117.4 L87.5 117.4 L87.5 118.7 L88.8 118.7 L88.8 118.6 L90.0 118.6 L90.0 120.8 L91.3 120.8 L91.3 121.2 L92.5 121.2 L92.5 123.2 L93.8 123.2 L93.8 122.8 L95.0 122.8 L95.0 121.1 L96.3 121.1 L96.3 124.9 L97.5 124.9 L97.5 125.3 L98.8 125.3 L98.8 125.8 L100.0 125.8 L100.0 125.3 L101.3 125.3 L101.3 126.9 L102.5 126.9 L102.5 127.3 L103.8 127.3 L103.8 127.2 L105.0 127.2 L105.0 128.5 L106.3 128.5 L106.3 128.8 L107.5 128.8 L107.5 129.5 L108.8 129.5 L108.8 130.5 L110.0 130.5 L110.0 128.9 L111.3 128.9 L111.3 130.9 L112.5 130.9 L112.5 129.6 L113.8 129.6 L113.8 128.8 L115.0 128.8 L115.0 126.0 L116.3 126.0 L116.3 130.3 L117.5 130.3 L117.5 127.7 L118.8 127.7 L118.8 131.8 L120.0 131.8 L120.0 131.8 L121.3 131.8 L121.3 133.4 L122.5 133.4 L122.5 132.0 L123.8 132.0 L123.8 131.2 L125.0 131.2 L125.0 130.2 L126.3 130.2 L126.3 131.9 L127.5 131.9 L127.5 130.6 L128.8 130.6 L128.8 129.9 L130.0 129.9 L130.0 127.5 L131.3 127.5 L131.3 130.6 L132.5 130.6 L132.5 128.7 L133.8 128.7 L133.8 128.7 L135.0 128.7 L135.0 129.5 L136.3 129.5 L136.3 128.6 L137.5 128.6 L137.5 129.7 L138.8 129.7 L138.8 127.7 L140.0 127.7 L140.0 127.4 L141.3 127.4 L141.3 126.4 L142.5 126.4 L142.5 127.6 L143.8 127.6 L143.8 127.8 L145.0 127.8 L145.0 129.8 L146.3 129.8 L146.3 128.5 L147.5 128.5 L147.5 129.5 L148.8 129.5 L148.8 128.5 L150.0 128.5 L150.0 130.7 L151.3 130.7 L151.3 128.5 L152.5 128.5 L152.5 129.3 L153.8 129.3 L153.8 126.6 L155.0 126.6 L155.0 129.6 L156.3 129.6 L156.3 128.2 L157.5 128.2 L157.5 128.4 L158.8 128.4 L158.8 128.5 L160.0 128.5 L160.0 125.5 L161.3 125.5 L161.3 128.1 L162.5 128.1 L162.5 129.1 L163.8 129.1 L163.8 130.4 L165.0 130.4 L165.0 130.5 L166.3 130.5 L166.3 126.3 L167.5 126.3 L167.5 128.7 L168.8 128.7 L168.8 128.4 L170.0 128.4 L170.0 127.1 L171.3 127.1 L171.3 131.0 L172.5 131.0 L172.5 129.9 L173.8 129.9 L173.8 127.4 L175.0 127.4 L175.0 128.8 L176.3 128.8 L176.3 129.5 L177.5 129.5 L177.5 128.8 L178.8 128.8 L178.8 128.8 L180.0 128.8 L180.0 130.1 L181.3 130.1 L181.3 129.6 L182.5 129.6 L182.5 128.8 L183.8 128.8 L183.8 127.9 L185.0 127.9 L185.0 127.6 L186.3 127.6 L186.3 128.1 L187.5 128.1 L187.5 123.7 L188.8 123.7 L188.8 127.4 L190.0 127.4 L190.0 129.7 L191.3 129.7 L191.3 127.5 L192.5 127.5 L192.5 127.8 L193.8 127.8 L193.8 127.4 L195.0 127.4 L195.0 128.7 L196.3 128.7 L196.3 128.0 L197.5 128.0 L197.5 127.6 L198.8 127.6 L198.8 127.7 L200.0 127.7 L200.0 126.8 L201.3 126.8 L201.3 127.4 L202.5 127.4 L202.5 122.2 L203.8 122.2 L203.8 126.4 L205.0 126.4 L205.0 128.8 L206.3 128.8 L206.3 129.9 L207.5 129.9 L207.5 129.2 L208.8 129.2 L208.8 127.8 L210.0 127.8 L210.0 129.7 L211.3 129.7 L211.3 126.5 L212.5 126.5 L212.5 124.1 L213.8 124.1 L213.8 127.8 L215.0 127.8 L215.0 127.0 L216.3 127.0 L216.3 127.9 L217.5 127.9 L217.5 128.3 L218.8 128.3 L218.8 126.7 L220.0 126.7 L220.0 130.4 L221.3 130.4 L221.3 129.4 L222.5 129.4 L222.5 129.8 L223.8 129.8 L223.8 129.7 L225.0 129.7 L225.0 130.3 L226.3 130.3 L226.3 128.1 L227.5 128.1 L227.5 130.4 L228.8 130.4 L228.8 126.3 L230.0 126.3 L230.0 129.1 L231.3 129.1 L231.3 129.7 L232.5 129.7 L232.5 127.0 L233.8 127.0 L233.8 128.7 L235.0 128.7 L235.0 127.2 L236.3 127.2 L236.3 128.9 L237.5 128.9 L237.5 127.5 L238.8 127.5 L238.8 127.0 L240.0 127.0 L240.0 128.7 L241.3 128.7 L241.3 126.6 L242.5 126.6 L242.5 127.6 L243.8 127.6 L243.8 126.7 L245.0 126.7 L245.0 126.8 L246.3 126.8 L246.3 126.6 L247.5 126.6 L247.5 124.3 L248.8 124.3 L248.8 128.6 L250.0 128.6 L250.0 129.1 L251.3 129.1 L251.3 127.8 L252.5 127.8 L252.5 131.2 L253.8 131.2 L253.8 129.5 L255.0 129.5 L255.0 128.2 L256.3 128.2 L256.3 127.7 L257.5 127.7 L257.5 127.7 L258.8 127.7 L258.8 126.2 L260.0 126.2 L260.0 127.0 L261.3 127.0 L261.3 126.2 L262.5 126.2 L262.5 127.6 L263.8 127.6 L263.8 128.7 L265.0 128.7 L265.0 127.7 L266.3 127.7 L266.3 126.5 L267.5 126.5 L267.5 127.4 L268.8 127.4 L268.8 129.9 L270.0 129.9 L270.0 129.6 L271.3 129.6 L271.3 127.3 L271.3 127.3 L271.3 128.0 L271.3 128.0 L271.3 137.2 L271.3 137.2 L271.3 139.4 L271.3 139.4 L271.3 138.3 L270.0 138.3 L270.0 138.7 L268.8 138.7 L268.8 139.8 L267.5 139.8 L267.5 139.3 L266.3 139.3 L266.3 139.9 L265.0 139.9 L265.0 139.8 L263.8 139.8 L263.8 139.7 L262.5 139.7 L262.5 142.3 L261.3 142.3 L261.3 147.0 L260.0 147.0 L260.0 143.1 L258.8 143.1 L258.8 138.0 L257.5 138.0 L257.5 139.1 L256.3 139.1 L256.3 142.1 L255.0 142.1 L255.0 139.6 L253.8 139.6 L253.8 142.6 L252.5 142.6 L252.5 141.4 L251.3 141.4 L251.3 140.1 L250.0 140.1 L250.0 140.7 L248.8 140.7 L248.8 141.6 L247.5 141.6 L247.5 140.1 L246.3 140.1 L246.3 142.3 L245.0 142.3 L245.0 141.5 L243.8 141.5 L243.8 141.9 L242.5 141.9 L242.5 138.8 L241.3 138.8 L241.3 143.4 L240.0 143.4 L240.0 140.1 L238.8 140.1 L238.8 143.1 L237.5 143.1 L237.5 140.9 L236.3 140.9 L236.3 140.6 L235.0 140.6 L235.0 145.7 L233.8 145.7 L233.8 143.2 L232.5 143.2 L232.5 142.5 L231.3 142.5 L231.3 139.9 L230.0 139.9 L230.0 139.8 L228.8 139.8 L228.8 143.4 L227.5 143.4 L227.5 135.5 L226.3 135.5 L226.3 138.4 L225.0 138.4 L225.0 137.3 L223.8 137.3 L223.8 142.3 L222.5 142.3 L222.5 138.7 L221.3 138.7 L221.3 136.7 L220.0 136.7 L220.0 143.1 L218.8 143.1 L218.8 140.1 L217.5 140.1 L217.5 138.3 L216.3 138.3 L216.3 143.0 L215.0 143.0 L215.0 138.8 L213.8 138.8 L213.8 139.6 L212.5 139.6 L212.5 139.1 L211.3 139.1 L211.3 138.2 L210.0 138.2 L210.0 137.7 L208.8 137.7 L208.8 141.5 L207.5 141.5 L207.5 144.2 L206.3 144.2 L206.3 143.0 L205.0 143.0 L205.0 141.2 L203.8 141.2 L203.8 142.3 L202.5 142.3 L202.5 139.5 L201.3 139.5 L201.3 140.6 L200.0 140.6 L200.0 140.8 L198.8 140.8 L198.8 139.3 L197.5 139.3 L197.5 138.6 L196.3 138.6 L196.3 141.6 L195.0 141.6 L195.0 138.6 L193.8 138.6 L193.8 142.5 L192.5 142.5 L192.5 140.1 L191.3 140.1 L191.3 140.4 L190.0 140.4 L190.0 141.7 L188.8 141.7 L188.8 142.3 L187.5 142.3 L187.5 142.7 L186.3 142.7 L186.3 141.4 L185.0 141.4 L185.0 141.9 L183.8 141.9 L183.8 140.1 L182.5 140.1 L182.5 139.6 L181.3 139.6 L181.3 138.6 L180.0 138.6 L180.0 140.5 L178.8 140.5 L178.8 142.7 L177.5 142.7 L177.5 141.0 L176.3 141.0 L176.3 140.1 L175.0 140.1 L175.0 142.2 L173.8 142.2 L173.8 138.8 L172.5 138.8 L172.5 138.6 L171.3 138.6 L171.3 139.4 L170.0 139.4 L170.0 139.6 L168.8 139.6 L168.8 144.1 L167.5 144.1 L167.5 140.4 L166.3 140.4 L166.3 142.2 L165.0 142.2 L165.0 142.2 L163.8 142.2 L163.8 140.2 L162.5 140.2 L162.5 142.3 L161.3 142.3 L161.3 142.7 L160.0 142.7 L160.0 139.1 L158.8 139.1 L158.8 140.1 L157.5 140.1 L157.5 140.7 L156.3 140.7 L156.3 140.6 L155.0 140.6 L155.0 141.3 L153.8 141.3 L153.8 139.7 L152.5 139.7 L152.5 143.3 L151.3 143.3 L151.3 140.6 L150.0 140.6 L150.0 138.6 L148.8 138.6 L148.8 140.7 L147.5 140.7 L147.5 140.7 L146.3 140.7 L146.3 139.4 L145.0 139.4 L145.0 139.6 L143.8 139.6 L143.8 137.3 L142.5 137.3 L142.5 139.0 L141.3 139.0 L141.3 140.8 L140.0 140.8 L140.0 140.4 L138.8 140.4 L138.8 140.1 L137.5 140.1 L137.5 143.2 L136.3 143.2 L136.3 140.0 L135.0 140.0 L135.0 141.3 L133.8 141.3 L133.8 144.5 L132.5 144.5 L132.5 142.5 L131.3 142.5 L131.3 142.4 L130.0 142.4 L130.0 141.8 L128.8 141.8 L128.8 142.6 L127.5 142.6 L127.5 142.4 L126.3 142.4 L126.3 138.8 L125.0 138.8 L125.0 140.1 L123.8 140.1 L123.8 139.6 L122.5 139.6 L122.5 145.1 L121.3 145.1 L121.3 143.9 L120.0 143.9 L120.0 140.1 L118.8 140.1 L118.8 141.1 L117.5 141.1 L117.5 143.5 L116.3 143.5 L116.3 141.2 L115.0 141.2 L115.0 138.2 L113.8 138.2 L113.8 142.2 L112.5 142.2 L112.5 142.5 L111.3 142.5 L111.3 138.9 L110.0 138.9 L110.0 140.0 L108.8 140.0 L108.8 139.8 L107.5 139.8 L107.5 139.5 L106.3 139.5 L106.3 139.9 L105.0 139.9 L105.0 138.5 L103.8 138.5 L103.8 136.3 L102.5 136.3 L102.5 137.2 L101.3 137.2 L101.3 136.5 L100.0 136.5 L100.0 135.3 L98.8 135.3 L98.8 135.0 L97.5 135.0 L97.5 134.2 L96.3 134.2 L96.3 132.2 L95.0 132.2 L95.0 132.0 L93.8 132.0 L93.8 132.9 L92.5 132.9 L92.5 131.7 L91.3 131.7 L91.3 131.2 L90.0 131.2 L90.0 129.0 L88.8 129.0 L88.8 128.3 L87.5 128.3 L87.5 127.6 L86.3 127.6 L86.3 128.1 L85.0 128.1 L85.0 126.9 L83.8 126.9 L83.8 127.7 L82.5 127.7 L82.5 125.4 L81.3 125.4 L81.3 124.3 L80.0 124.3 L80.0 124.4 L78.8 124.4 L78.8 125.6 L77.5 125.6 L77.5 126.8 L77.1 126.8 L77.1 128.0 L76.7 128.0 L76.7 129.1 L76.3 129.1 L76.3 131.1 L75.9 131.1 L75.9 135.3 L75.5 135.3 L75.5 139.6 L75.1 139.6 L75.1 143.9 L74.7 143.9 L74.7 146.7 L74.3 146.7 L74.3 148.2 L73.9 148.2 L73.9 149.7 L73.5 149.7 L73.5 151.2 L73.1 151.2 L73.1 151.6 L72.7 151.6 L72.7 151.6 L72.3 151.6 L72.3 151.6 L71.9 151.6 L71.9 151.6 L71.5 151.6 L71.5 151.9 L70.2 151.9 L70.2 151.9 L69.0 151.9 L69.0 151.2 L67.8 151.2 L67.8 151.4 L66.5 151.4 L66.5 153.9 L65.2 153.9 L65.2 151.7 L64.0 151.7 L64.0 150.5 L62.8 150.5 L62.8 151.4 L61.5 151.4Z" fill="#828282" stroke="#828282" stroke-width="0.6" stroke-linejoin="round"/>
<line x1="61.5" y1="31.9" x2="61.5" y2="172.9" stroke="#000" stroke-width="2.2" stroke-linecap="butt"/>
<line x1="60.4" y1="171.8" x2="272.5" y2="171.8" stroke="#000" stroke-width="2.2" stroke-linecap="butt"/>
<line x1="54.6" y1="33.0" x2="61.5" y2="33.0" stroke="#000" stroke-width="2.2" stroke-linecap="butt"/>
<text x="53.2" y="37.0" font-size="11.3" text-anchor="end" fill="#000" >1.2</text>
<line x1="57.6" y1="56.1" x2="61.5" y2="56.1" stroke="#000" stroke-width="2.2" stroke-linecap="butt"/>
<line x1="54.6" y1="79.3" x2="61.5" y2="79.3" stroke="#000" stroke-width="2.2" stroke-linecap="butt"/>
<text x="53.2" y="83.3" font-size="11.3" text-anchor="end" fill="#000" >1.1</text>
<line x1="57.6" y1="102.4" x2="61.5" y2="102.4" stroke="#000" stroke-width="2.2" stroke-linecap="butt"/>
<line x1="54.6" y1="125.5" x2="61.5" y2="125.5" stroke="#000" stroke-width="2.2" stroke-linecap="butt"/>
<text x="53.2" y="129.5" font-size="11.3" text-anchor="end" fill="#000" >1.0</text>
<line x1="57.6" y1="148.7" x2="61.5" y2="148.7" stroke="#000" stroke-width="2.2" stroke-linecap="butt"/>
<line x1="54.6" y1="171.8" x2="61.5" y2="171.8" stroke="#000" stroke-width="2.2" stroke-linecap="butt"/>
<text x="53.2" y="175.8" font-size="11.3" text-anchor="end" fill="#000" >0.9</text>
<line x1="61.3" y1="171.8" x2="61.3" y2="177.4" stroke="#000" stroke-width="2.2" stroke-linecap="butt"/>
<text x="61.3" y="190.2" font-size="11.1" text-anchor="middle" fill="#000" >0</text>
<line x1="87.6" y1="171.8" x2="87.6" y2="175.0" stroke="#000" stroke-width="2.2" stroke-linecap="butt"/>
<line x1="113.8" y1="171.8" x2="113.8" y2="177.4" stroke="#000" stroke-width="2.2" stroke-linecap="butt"/>
<text x="113.8" y="190.2" font-size="11.1" text-anchor="middle" fill="#000" >500</text>
<line x1="140.1" y1="171.8" x2="140.1" y2="175.0" stroke="#000" stroke-width="2.2" stroke-linecap="butt"/>
<line x1="166.4" y1="171.8" x2="166.4" y2="177.4" stroke="#000" stroke-width="2.2" stroke-linecap="butt"/>
<text x="166.4" y="190.2" font-size="11.1" text-anchor="middle" fill="#000" >1000</text>
<line x1="192.7" y1="171.8" x2="192.7" y2="175.0" stroke="#000" stroke-width="2.2" stroke-linecap="butt"/>
<line x1="218.9" y1="171.8" x2="218.9" y2="177.4" stroke="#000" stroke-width="2.2" stroke-linecap="butt"/>
<text x="218.9" y="190.2" font-size="11.1" text-anchor="middle" fill="#000" >1500</text>
<line x1="245.2" y1="171.8" x2="245.2" y2="175.0" stroke="#000" stroke-width="2.2" stroke-linecap="butt"/>
<line x1="271.5" y1="171.8" x2="271.5" y2="177.4" stroke="#000" stroke-width="2.2" stroke-linecap="butt"/>
<text x="271.5" y="190.2" font-size="11.1" text-anchor="middle" fill="#000" >2000</text>
<text x="166.5" y="208.1" font-size="11.3" text-anchor="middle" fill="#000" >Time (sec)</text>
<text transform="translate(28.0,101.5) rotate(-90) scale(1.1,1)" text-anchor="middle" font-size="10.3">F<tspan font-size="7.8" dy="2.6">340</tspan><tspan dy="-2.6">/F</tspan><tspan font-size="7.8" dy="2.6">380</tspan></text>
<line x1="72.0" y1="49.0" x2="265.6" y2="49.0" stroke="#000" stroke-width="2.4" stroke-linecap="butt"/>
<text x="163.8" y="41.8" font-size="11.3" text-anchor="middle" fill="#000" >Agonist</text>
<line x1="143.1" y1="60.4" x2="158.1" y2="60.4" stroke="#000" stroke-width="2.3" stroke-linecap="butt"/>
<text x="167.0" y="64.7" font-size="11.3" text-anchor="start" fill="#000" >GABA 100 μM</text>
<line x1="143.9" y1="75.9" x2="158.9" y2="75.9" stroke="#d3d3d3" stroke-width="2.3" stroke-linecap="butt"/>
<text x="167.4" y="79.8" font-size="11.3" text-anchor="start" fill="#000" >Muscimol 15 μM</text>
<line x1="144.8" y1="90.2" x2="159.8" y2="90.2" stroke="#828282" stroke-width="2.3" stroke-linecap="butt"/>
<text x="168.6" y="94.1" font-size="11.3" text-anchor="start" fill="#000" >Baclofen 100 μM</text>
<line x1="143.9" y1="106.4" x2="158.9" y2="106.4" stroke="#c9c705" stroke-width="2.3" stroke-linecap="butt"/>
<text x="167.6" y="110.3" font-size="11.15" text-anchor="start" fill="#000" >Muscimol+Baclofen</text>
<text transform="translate(7.6,30.2) scale(1.12,1)" font-size="24.2">A</text>
<line x1="353.2" y1="80.6" x2="353.2" y2="82.3" stroke="#000" stroke-width="2.0" stroke-linecap="butt"/>
<line x1="344.5" y1="80.6" x2="361.9" y2="80.6" stroke="#000" stroke-width="2.0" stroke-linecap="butt"/>
<rect x="336.7" y="82.3" width="33.0" height="89.5" fill="#000" stroke="#000" stroke-width="2"/>
<text x="352.9" y="127.4" font-size="11.3" text-anchor="middle" fill="#fff" >177</text>
<line x1="405.0" y1="82.2" x2="405.0" y2="87.2" stroke="#000" stroke-width="2.0" stroke-linecap="butt"/>
<line x1="396.3" y1="82.2" x2="413.7" y2="82.2" stroke="#000" stroke-width="2.0" stroke-linecap="butt"/>
<rect x="388.5" y="87.2" width="33.0" height="84.6" fill="#d3d3d3" stroke="#000" stroke-width="2"/>
<text x="404.7" y="129.9" font-size="11.3" text-anchor="middle" fill="#000" >208</text>
<line x1="456.4" y1="83.0" x2="456.4" y2="87.4" stroke="#000" stroke-width="2.0" stroke-linecap="butt"/>
<line x1="447.7" y1="83.0" x2="465.1" y2="83.0" stroke="#000" stroke-width="2.0" stroke-linecap="butt"/>
<rect x="439.9" y="87.4" width="33.0" height="84.4" fill="#828282" stroke="#000" stroke-width="2"/>
<text x="456.1" y="129.1" font-size="11.3" text-anchor="middle" fill="#000" >205</text>
<rect x="491.3" y="82.4" width="33.0" height="89.4" fill="#b2a976" stroke="#000" stroke-width="2"/>
<text x="507.5" y="129.9" font-size="11.3" text-anchor="middle" fill="#000" >100</text>
<line x1="328.7" y1="34.9" x2="328.7" y2="172.9" stroke="#000" stroke-width="2.2" stroke-linecap="butt"/>
<line x1="327.6" y1="171.8" x2="534.8" y2="171.8" stroke="#000" stroke-width="2.2" stroke-linecap="butt"/>
<line x1="321.8" y1="36.0" x2="328.7" y2="36.0" stroke="#000" stroke-width="2.2" stroke-linecap="butt"/>
<text x="320.4" y="40.0" font-size="11.3" text-anchor="end" fill="#000" >150</text>
<line x1="324.8" y1="58.6" x2="328.7" y2="58.6" stroke="#000" stroke-width="2.2" stroke-linecap="butt"/>
<line x1="321.8" y1="81.3" x2="328.7" y2="81.3" stroke="#000" stroke-width="2.2" stroke-linecap="butt"/>
<text x="320.4" y="85.3" font-size="11.3" text-anchor="end" fill="#000" >100</text>
<line x1="324.8" y1="103.9" x2="328.7" y2="103.9" stroke="#000" stroke-width="2.2" stroke-linecap="butt"/>
<line x1="321.8" y1="126.5" x2="328.7" y2="126.5" stroke="#000" stroke-width="2.2" stroke-linecap="butt"/>
<text x="320.4" y="130.5" font-size="11.3" text-anchor="end" fill="#000" >50</text>
<line x1="324.8" y1="149.2" x2="328.7" y2="149.2" stroke="#000" stroke-width="2.2" stroke-linecap="butt"/>
<line x1="321.8" y1="171.8" x2="328.7" y2="171.8" stroke="#000" stroke-width="2.2" stroke-linecap="butt"/>
<text x="320.4" y="175.8" font-size="11.3" text-anchor="end" fill="#000" >0</text>
<line x1="353.2" y1="171.8" x2="353.2" y2="177.0" stroke="#000" stroke-width="2.2" stroke-linecap="butt"/>
<line x1="405.0" y1="171.8" x2="405.0" y2="177.0" stroke="#000" stroke-width="2.2" stroke-linecap="butt"/>
<line x1="456.4" y1="171.8" x2="456.4" y2="177.0" stroke="#000" stroke-width="2.2" stroke-linecap="butt"/>
<line x1="507.8" y1="171.8" x2="507.8" y2="177.0" stroke="#000" stroke-width="2.2" stroke-linecap="butt"/>
<text x="352.8" y="190.4" font-size="11.3" text-anchor="middle" fill="#000" >GABA</text>
<text x="404.9" y="190.4" font-size="11.3" text-anchor="middle" fill="#000" >Muscimol</text>
<text x="456.0" y="190.4" font-size="11.3" text-anchor="middle" fill="#000" >Baclofen</text>
<text x="512.8" y="190.2" font-size="10.9" text-anchor="middle" fill="#000" >Muscimol</text>
<text x="514.6" y="203.0" font-size="10.9" text-anchor="middle" fill="#000" >+Baclofen</text>
<text transform="translate(294.6,103.4) rotate(-90)" text-anchor="middle" font-size="10">% Responding cells</text>
<text transform="translate(274.3,30.3) scale(1.08,1)" font-size="25">B</text>
<line x1="256.2" y1="310.2" x2="256.2" y2="314.4" stroke="#000" stroke-width="2.0" stroke-linecap="butt"/>
<line x1="247.5" y1="310.2" x2="264.9" y2="310.2" stroke="#000" stroke-width="2.2" stroke-linecap="butt"/>
<rect x="239.7" y="314.4" width="33.0" height="80.8" fill="#000" stroke="#000" stroke-width="2"/>
<text x="257.4" y="340.9" font-size="11.3" text-anchor="middle" fill="#fff" >176/</text>
<text x="256.2" y="353.6" font-size="11.3" text-anchor="middle" fill="#fff" >177</text>
<line x1="308.5" y1="345.6" x2="308.5" y2="349.2" stroke="#000" stroke-width="2.0" stroke-linecap="butt"/>
<line x1="299.8" y1="345.6" x2="317.2" y2="345.6" stroke="#000" stroke-width="2.2" stroke-linecap="butt"/>
<rect x="292.0" y="349.2" width="33.0" height="46.0" fill="#d3d3d3" stroke="#000" stroke-width="2"/>
<text x="309.7" y="368.2" font-size="11.3" text-anchor="middle" fill="#000" >196/</text>
<text x="308.5" y="380.6" font-size="11.3" text-anchor="middle" fill="#000" >208</text>
<line x1="360.8" y1="355.4" x2="360.8" y2="358.6" stroke="#000" stroke-width="2.0" stroke-linecap="butt"/>
<line x1="352.1" y1="355.4" x2="369.5" y2="355.4" stroke="#000" stroke-width="2.2" stroke-linecap="butt"/>
<rect x="344.3" y="358.6" width="33.0" height="36.6" fill="#828282" stroke="#000" stroke-width="2"/>
<text x="362.0" y="373.4" font-size="11.3" text-anchor="middle" fill="#000" >195/</text>
<text x="360.8" y="385.6" font-size="11.3" text-anchor="middle" fill="#000" >205</text>
<line x1="413.0" y1="341.6" x2="413.0" y2="348.6" stroke="#000" stroke-width="2.0" stroke-linecap="butt"/>
<line x1="404.3" y1="341.6" x2="421.7" y2="341.6" stroke="#000" stroke-width="2.2" stroke-linecap="butt"/>
<rect x="396.5" y="348.6" width="33.0" height="46.6" fill="#b2a976" stroke="#000" stroke-width="2"/>
<text x="414.2" y="373.6" font-size="11.3" text-anchor="middle" fill="#000" >82/</text>
<text x="413.0" y="385.9" font-size="11.3" text-anchor="middle" fill="#000" >82</text>
<line x1="230.4" y1="255.9" x2="230.4" y2="396.3" stroke="#000" stroke-width="2.2" stroke-linecap="butt"/>
<line x1="229.3" y1="395.2" x2="440.0" y2="395.2" stroke="#000" stroke-width="2.2" stroke-linecap="butt"/>
<line x1="223.4" y1="257.0" x2="230.4" y2="257.0" stroke="#000" stroke-width="2.2" stroke-linecap="butt"/>
<text x="222.2" y="261.0" font-size="11.3" text-anchor="end" fill="#000" >0.30</text>
<line x1="226.4" y1="268.5" x2="230.4" y2="268.5" stroke="#000" stroke-width="2.2" stroke-linecap="butt"/>
<line x1="223.4" y1="280.0" x2="230.4" y2="280.0" stroke="#000" stroke-width="2.2" stroke-linecap="butt"/>
<text x="222.2" y="284.0" font-size="11.3" text-anchor="end" fill="#000" >0.25</text>
<line x1="226.4" y1="291.5" x2="230.4" y2="291.5" stroke="#000" stroke-width="2.2" stroke-linecap="butt"/>
<line x1="223.4" y1="303.1" x2="230.4" y2="303.1" stroke="#000" stroke-width="2.2" stroke-linecap="butt"/>
<text x="222.2" y="307.1" font-size="11.3" text-anchor="end" fill="#000" >0.20</text>
<line x1="226.4" y1="314.6" x2="230.4" y2="314.6" stroke="#000" stroke-width="2.2" stroke-linecap="butt"/>
<line x1="223.4" y1="326.1" x2="230.4" y2="326.1" stroke="#000" stroke-width="2.2" stroke-linecap="butt"/>
<text x="222.2" y="330.1" font-size="11.3" text-anchor="end" fill="#000" >0.15</text>
<line x1="226.4" y1="337.6" x2="230.4" y2="337.6" stroke="#000" stroke-width="2.2" stroke-linecap="butt"/>
<line x1="223.4" y1="349.1" x2="230.4" y2="349.1" stroke="#000" stroke-width="2.2" stroke-linecap="butt"/>
<text x="222.2" y="353.1" font-size="11.3" text-anchor="end" fill="#000" >0.10</text>
<line x1="226.4" y1="360.6" x2="230.4" y2="360.6" stroke="#000" stroke-width="2.2" stroke-linecap="butt"/>
<line x1="223.4" y1="372.2" x2="230.4" y2="372.2" stroke="#000" stroke-width="2.2" stroke-linecap="butt"/>
<text x="222.2" y="376.2" font-size="11.3" text-anchor="end" fill="#000" >0.05</text>
<line x1="226.4" y1="383.7" x2="230.4" y2="383.7" stroke="#000" stroke-width="2.2" stroke-linecap="butt"/>
<line x1="223.4" y1="395.2" x2="230.4" y2="395.2" stroke="#000" stroke-width="2.2" stroke-linecap="butt"/>
<text x="222.2" y="399.2" font-size="11.3" text-anchor="end" fill="#000" >0.00</text>
<line x1="256.2" y1="395.2" x2="256.2" y2="401.0" stroke="#000" stroke-width="2.2" stroke-linecap="butt"/>
<line x1="308.5" y1="395.2" x2="308.5" y2="401.0" stroke="#000" stroke-width="2.2" stroke-linecap="butt"/>
<line x1="360.8" y1="395.2" x2="360.8" y2="401.0" stroke="#000" stroke-width="2.2" stroke-linecap="butt"/>
<line x1="413.0" y1="395.2" x2="413.0" y2="401.0" stroke="#000" stroke-width="2.2" stroke-linecap="butt"/>
<text x="256.0" y="412.7" font-size="10.5" text-anchor="middle" fill="#000" >GABA</text>
<text x="309.0" y="412.7" font-size="10.5" text-anchor="middle" fill="#000" >Muscimol</text>
<text x="361.8" y="412.7" font-size="10.5" text-anchor="middle" fill="#000" >Baclofen</text>
<text x="416.8" y="412.7" font-size="10.3" text-anchor="middle" fill="#000" >Muscimol</text>
<text x="417.0" y="424.6" font-size="10.3" text-anchor="middle" fill="#000" >+Baclofen</text>
<text transform="translate(190.7,325.5) rotate(-90) scale(1.1,1)" text-anchor="middle" font-size="10.3">ΔF<tspan font-size="7.8" dy="2.6">340</tspan><tspan dy="-2.6">/F</tspan><tspan font-size="7.8" dy="2.6">380</tspan></text>
<text transform="translate(177.0,253.3) scale(1.09,1)" font-size="24.2">C</text>
<path d="M255.5 263.4 V257.0 H413.2 V263.4" fill="none" stroke="#000" stroke-width="2.4" stroke-linejoin="miter"/>
<path d="M255.5 282.5 V276.3 H360.8 V282.5" fill="none" stroke="#000" stroke-width="2.4" stroke-linejoin="miter"/>
<path d="M255.5 298.5 V292.7 H309.2 V298.5" fill="none" stroke="#000" stroke-width="2.4" stroke-linejoin="miter"/>
<path d="M309.2 311.5 V305.7 H413.2 V311.5" fill="none" stroke="#000" stroke-width="2.4" stroke-linejoin="miter"/>
<path d="M364.8 326.1 V320.3 H413.2 V326.1" fill="none" stroke="#000" stroke-width="2.4" stroke-linejoin="miter"/>
<path d="M307.3 341.0 V334.6 H362.6 V341.0" fill="none" stroke="#000" stroke-width="2.4" stroke-linejoin="miter"/>
<text x="332.5" y="260.0" font-size="16" text-anchor="middle" fill="#000" letter-spacing="0.62">****</text>
<text x="306.8" y="281.0" font-size="16" text-anchor="middle" fill="#000" letter-spacing="0.62">****</text>
<text x="289.0" y="297.8" font-size="16" text-anchor="middle" fill="#000" letter-spacing="0.62">****</text>
<text x="361.5" y="302.4" font-size="11.3" text-anchor="middle" fill="#000" >ns</text>
<text x="386.0" y="316.6" font-size="11.3" text-anchor="middle" fill="#000" >ns</text>
<text x="337.3" y="333.3" font-size="11.3" text-anchor="middle" fill="#000" >ns</text>
</svg></body></html>
